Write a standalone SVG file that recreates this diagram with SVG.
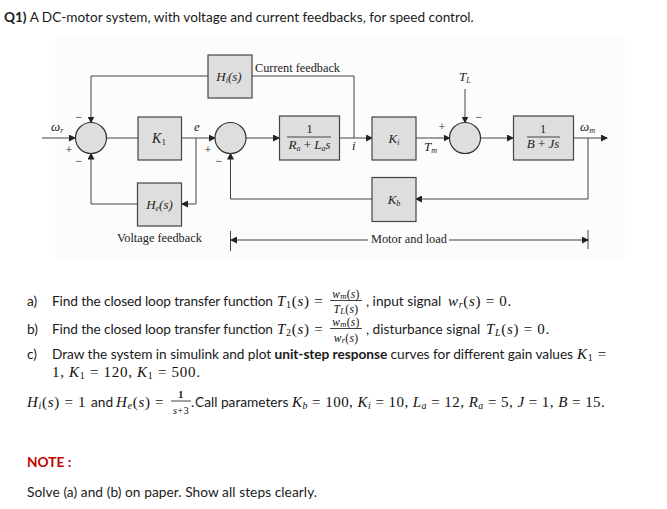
<svg xmlns="http://www.w3.org/2000/svg" width="667" height="509" viewBox="0 0 667 509">
<style>
.b{fill:#dedede;stroke:#444;stroke-width:1.2}
.s{fill:#dedede;stroke:#333;stroke-width:1.2}
.c{fill:none;stroke:#444;stroke-width:1}
text{fill:#222}
.l{font:12.300px "Liberation Serif",serif}
.g{font:12px "Liberation Serif",serif;text-anchor:middle}
.i{font:italic 13px "Liberation Serif",serif}
.p{font:13.700px Lato,"Liberation Sans",sans-serif;fill:#1a1a1a}
.m{font:italic 15px "Liberation Serif",serif;fill:#111;letter-spacing:.7px}
.m0{font:15px "Liberation Serif",serif;fill:#111;letter-spacing:.7px}
.f{font:italic 11.500px "Liberation Serif",serif;fill:#111;text-anchor:middle;letter-spacing:.3px}
.fl{stroke:#111;stroke-width:.8}
</style>
<defs>
<marker id="a" markerWidth="7" markerHeight="7" refX="6" refY="3.5" orient="auto" markerUnits="userSpaceOnUse"><path d="M0 0L7 3.500L0 7Z" fill="#222"/></marker>
</defs>
<rect width="667" height="509" fill="#fff"/>
<rect x="55" y="38" width="570" height="220" fill="#fcfcfc"/>
<text x="4" y="22" class="p" style="font-size:13.600px"><tspan font-weight="700">Q1)</tspan> A DC-motor system, with voltage and current feedbacks, for speed control.</text>
<g id="connectors">
<path class="c" d="M42 138H75" marker-end="url(#a)"/>
<path class="c" d="M106.500 138H138M181 138H214.800" marker-end="url(#a)"/>
<path class="c" d="M245.800 138H279" marker-end="url(#a)"/>
<path class="c" d="M339 138H372" marker-end="url(#a)"/>
<path class="c" d="M416 138H449.500" marker-end="url(#a)"/>
<path class="c" d="M480.500 138H513" marker-end="url(#a)"/>
<path class="c" d="M573 138H607" marker-end="url(#a)"/>
<path class="c" d="M208 76H91V122.500" marker-end="url(#a)"/>
<path class="c" d="M252 76H354V138"/>
<path class="c" d="M196 138V204H182" marker-end="url(#a)"/>
<path class="c" d="M137 204H91V153.500" marker-end="url(#a)"/>
<path class="c" d="M372 199H230.500V153.500" marker-end="url(#a)"/>
<path class="c" d="M588 138V199H416" marker-end="url(#a)"/>
<path class="c" d="M465 89V122.500" marker-end="url(#a)"/>
<path class="c" d="M368 240H231" marker-end="url(#a)"/>
<path class="c" d="M449 240H588" marker-end="url(#a)"/>
<path class="c" d="M230.500 231V251M588 230V249"/>
</g>
<g id="sum1"><circle class="s" cx="91" cy="138" r="15.500"/><text class="g" x="79" y="121">−</text><text class="g" x="69" y="154">+</text><text class="g" x="79" y="165">−</text></g>
<g id="sum2"><circle class="s" cx="230.500" cy="138" r="15.500"/><text class="g" x="208" y="154">+</text><text class="g" x="219" y="165">−</text></g>
<g id="sum3"><circle class="s" cx="465" cy="138" r="15.500"/><text class="g" x="442" y="131">+</text><text class="g" x="479" y="121">−</text></g>
<g id="Hi"><rect class="b" x="208" y="55" width="44" height="43"/><text class="i" x="229" y="81" text-anchor="middle">H<tspan font-size="8" dy="2">i</tspan><tspan dy="-2">(s)</tspan></text></g>
<g id="K1"><rect class="b" x="138" y="117" width="43.500" height="43"/><text class="i" x="159" y="143" text-anchor="middle" style="font-size:14px">K<tspan font-style="normal" font-size="9" dy="2">1</tspan></text></g>
<g id="He"><rect class="b" x="137.500" y="183" width="44" height="43"/><text class="i" x="159.500" y="209" text-anchor="middle">H<tspan font-size="8" dy="2">e</tspan><tspan dy="-2">(s)</tspan></text></g>
<g id="Armature"><rect class="b" x="279.500" y="116" width="60" height="44"/><text class="l" x="309.500" y="133" text-anchor="middle">1</text><path class="c" d="M287 137H331"/><text class="i" x="309.500" y="149" text-anchor="middle">R<tspan font-size="8" dy="2">a</tspan><tspan dy="-2" font-style="normal"> + </tspan>L<tspan font-size="8" dy="2">a</tspan><tspan dy="-2">s</tspan></text></g>
<g id="Ki"><rect class="b" x="372" y="117" width="44" height="43"/><text class="i" x="394" y="143" text-anchor="middle">K<tspan font-size="8" dy="2">i</tspan></text></g>
<g id="Load"><rect class="b" x="513.500" y="116" width="60" height="44"/><text class="l" x="543" y="133" text-anchor="middle">1</text><path class="c" d="M527 137H560"/><text class="i" x="543" y="148" text-anchor="middle">B<tspan font-style="normal"> + </tspan>Js</text></g>
<g id="Kb"><rect class="b" x="372" y="177.500" width="44" height="44"/><text class="i" x="394" y="204" text-anchor="middle">K<tspan font-size="8" dy="2">b</tspan></text></g>
<g id="labels">
<text class="i" x="51" y="131">ω<tspan font-size="8" dy="2">r</tspan></text>
<text class="i" x="194" y="131">e</text>
<text class="i" x="352" y="150">i</text>
<text class="i" x="424" y="151">T<tspan font-size="8" dy="2">m</tspan></text>
<text class="i" x="459" y="81">T<tspan font-size="8" dy="2">L</tspan></text>
<text class="i" x="580" y="131">ω<tspan font-size="8" dy="2">m</tspan></text>
<text class="l" x="255" y="72">Current feedback</text>
<text class="l" x="117" y="242">Voltage feedback</text>
<text class="l" x="371" y="243">Motor and load</text>
</g>
<g id="text">
<text class="p" x="27" y="306">a)</text>
<text class="p" x="52" y="306" textLength="221">Find the closed loop transfer function</text>
<text class="m" x="277" y="306">T<tspan font-style="normal" font-size="10" dy="2">1</tspan><tspan font-style="normal" dy="-2">(</tspan>s<tspan font-style="normal">) =</tspan></text>
<text class="f" x="346" y="298">w<tspan font-size="8.500" dy="1">m</tspan><tspan dy="-1" font-style="normal">(</tspan>s<tspan font-style="normal">)</tspan></text>
<path class="fl" d="M330 300.500H362"/>
<text class="f" x="346" y="313">T<tspan font-size="8.500" dy="1">L</tspan><tspan dy="-1" font-style="normal">(</tspan>s<tspan font-style="normal">)</tspan></text>
<text class="p" x="366" y="306">, input signal</text>
<text class="m" x="448" y="306">w<tspan font-size="10" dy="2">r</tspan><tspan font-style="normal" dy="-2">(</tspan>s<tspan font-style="normal">) = 0.</tspan></text>
<text class="p" x="27" y="334">b)</text>
<text class="p" x="52" y="334" textLength="221">Find the closed loop transfer function</text>
<text class="m" x="277" y="334">T<tspan font-style="normal" font-size="10" dy="2">2</tspan><tspan font-style="normal" dy="-2">(</tspan>s<tspan font-style="normal">) =</tspan></text>
<text class="f" x="346" y="326">w<tspan font-size="8.500" dy="1">m</tspan><tspan dy="-1" font-style="normal">(</tspan>s<tspan font-style="normal">)</tspan></text>
<path class="fl" d="M330 328.500H362"/>
<text class="f" x="346" y="341.500">w<tspan font-size="8.500" dy="1">r</tspan><tspan dy="-1" font-style="normal">(</tspan>s<tspan font-style="normal">)</tspan></text>
<text class="p" x="366" y="334">, disturbance signal</text>
<text class="m" x="486" y="334">T<tspan font-size="10" dy="2">L</tspan><tspan font-style="normal" dy="-2">(</tspan>s<tspan font-style="normal">) = 0.</tspan></text>
<text class="p" x="27" y="359">c)</text>
<text class="p" x="52" y="359" textLength="521">Draw the system in simulink and plot <tspan font-weight="700">unit-step response</tspan> curves for different gain values</text>
<text class="m" x="577" y="359">K<tspan font-style="normal" font-size="10" dy="2">1</tspan><tspan font-style="normal" dy="-2"> =</tspan></text>
<text class="m0" x="52" y="376.500">1, <tspan font-style="italic">K</tspan><tspan font-size="10" dy="2">1</tspan><tspan dy="-2"> = 120, </tspan><tspan font-style="italic">K</tspan><tspan font-size="10" dy="2">1</tspan><tspan dy="-2"> = 500.</tspan></text>
<text class="m" x="27" y="407">H<tspan font-size="10" dy="2">i</tspan><tspan font-style="normal" dy="-2">(</tspan>s<tspan font-style="normal">) = 1</tspan></text>
<text class="p" x="91" y="407">and</text>
<text class="m" x="116" y="407">H<tspan font-size="10" dy="2">e</tspan><tspan font-style="normal" dy="-2">(</tspan>s<tspan font-style="normal">) =</tspan></text>
<text class="f" x="181" y="398" style="font-style:normal;font-weight:700;font-size:10px">1</text>
<path class="fl" d="M171 401H191"/>
<text class="f" x="181" y="414" style="font-size:10.500px">s<tspan font-style="normal">+3</tspan></text>
<text class="p" x="191" y="407">.</text>
<text class="p" x="195" y="407">Call parameters</text>
<text class="m" x="292" y="407" style="letter-spacing:.45px">K<tspan font-size="10" dy="2">b</tspan><tspan font-style="normal" dy="-2"> = 100, </tspan>K<tspan font-size="10" dy="2">i</tspan><tspan font-style="normal" dy="-2"> = 10, </tspan>L<tspan font-size="10" dy="2">a</tspan><tspan font-style="normal" dy="-2"> = 12, </tspan>R<tspan font-size="10" dy="2">a</tspan><tspan font-style="normal" dy="-2"> = 5, </tspan>J<tspan font-style="normal"> = 1, </tspan>B<tspan font-style="normal"> = 15.</tspan></text>
<text class="p" x="27" y="467" style="font-weight:700;fill:#c00000">NOTE :</text>
<text class="p" x="27" y="497" textLength="290">Solve (a) and (b) on paper. Show all steps clearly.</text>
</g>
</svg>
